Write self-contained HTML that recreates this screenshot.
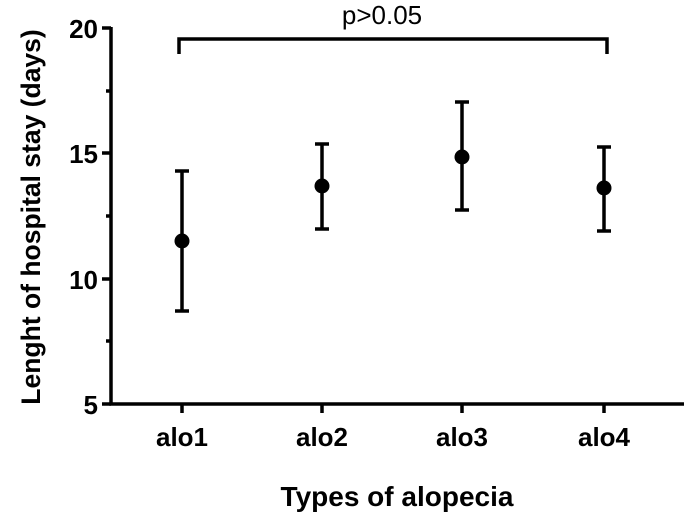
<!DOCTYPE html><html><head><style>body{margin:0;background:#fff}</style></head><body>
<svg width="685" height="517" viewBox="0 0 685 517" xmlns="http://www.w3.org/2000/svg" font-family="Liberation Sans, Arial, sans-serif">
<g stroke="#000" stroke-width="3.5" fill="none">
<path d="M111 27 V404 H684"/>
<path d="M102 28 H111 M102 153 H111 M102 279 H111 M102 404 H111 M106 91 H111 M106 216 H111 M106 341 H111"/>
<path d="M182 404 V413 M322 404 V413 M462 404 V413 M604 404 V413"/>
<path d="M179 54 V39 H607 V54"/>
<path d="M182 171 V311 M175 171 H189 M175 311 H189"/>
<path d="M322 144 V229 M315 144 H329 M315 229 H329"/>
<path d="M462 102 V210 M455 102 H469 M455 210 H469"/>
<path d="M604 147 V231 M597 147 H611 M597 231 H611"/>
</g>
<g fill="#000"><circle cx="182" cy="241" r="7.5"/><circle cx="322" cy="186" r="7.5"/><circle cx="462" cy="157" r="7.5"/><circle cx="604" cy="188" r="7.5"/></g>
<g font-weight="bold" font-size="26" text-anchor="end">
<text x="98" y="38">20</text><text x="98" y="163">15</text><text x="98" y="289">10</text><text x="98" y="414">5</text></g>
<g font-weight="bold" font-size="26" text-anchor="middle">
<text x="182" y="446">alo1</text><text x="322" y="446">alo2</text><text x="462" y="446">alo3</text><text x="604" y="446">alo4</text></g>
<g font-weight="bold" text-anchor="middle">
<text x="397" y="506" font-size="28">Types of alopecia</text>
<text transform="translate(40,217) rotate(-90)" font-size="26.5">Lenght of hospital stay (days)</text></g>
<text x="382" y="24" font-size="26" text-anchor="middle">p&gt;0.05</text>
</svg></body></html>
